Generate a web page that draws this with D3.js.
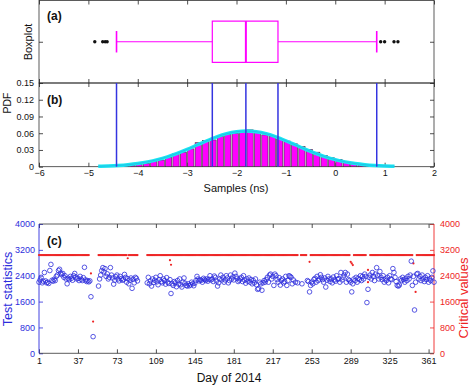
<!DOCTYPE html>
<html>
<head>
<meta charset="utf-8">
<script src="https://cdn.jsdelivr.net/npm/d3@7/dist/d3.min.js"></script>
<style>
  body { margin: 0; background: #fff; }
  svg { display: block; font-family: "Liberation Sans", Arial, Helvetica, sans-serif; }
</style>
</head>
<body>
<div id="chart-container"></div>
<script>
// ---- data ----
const sampleTicks = [-6, -5, -4, -3, -2, -1, 0, 1, 2];
const pdfTicks = [0, 0.03, 0.06, 0.09, 0.12, 0.15];
const dayTicks = [1, 37, 73, 109, 145, 181, 217, 253, 289, 325, 361];
const statTicks = [0, 800, 1600, 2400, 3200, 4000];

// boxplot (ns)
const boxWhiskers = [-4.43, 0.84];
const boxQuartiles = [-2.49, -1.81, -1.16];
const boxOutliers = [-4.87, -4.71, -4.66, -4.62, 0.92, 1.0, 1.19, 1.27];

// histogram: first bin edge, bin width, bar heights
const histStart = -4.8;
const histBin = 0.15;
const histHeights = [0.001, 0.001, 0.001, 0.002, 0.003, 0.004, 0.006, 0.009, 0.012, 0.017,
  0.024, 0.026, 0.032, 0.043, 0.047, 0.048, 0.054, 0.058, 0.060, 0.061,
  0.066, 0.063, 0.057, 0.055, 0.050, 0.046, 0.041, 0.036, 0.031, 0.026,
  0.020, 0.016, 0.013, 0.009, 0.006, 0.004, 0.003, 0.002, 0.001, 0.001];

// fitted pdf curve
const fitX = [-4.8, -4.6, -4.4, -4.2, -4.0, -3.8, -3.6, -3.4, -3.2, -3.0, -2.8, -2.6, -2.4, -2.2, -2.0, -1.8,
  -1.6, -1.4, -1.2, -1.0, -0.8, -0.6, -0.4, -0.2, 0.0, 0.2, 0.4, 0.6, 0.8, 1.0, 1.2];
const fitY = [0.0007, 0.0013, 0.0022, 0.0036, 0.0057, 0.0087, 0.0127, 0.0178, 0.0240, 0.0311, 0.0388, 0.0465,
  0.0535, 0.0591, 0.0627, 0.0640, 0.0627, 0.0591, 0.0535, 0.0465, 0.0388, 0.0311, 0.0240, 0.0178,
  0.0127, 0.0087, 0.0057, 0.0036, 0.0022, 0.0013, 0.0007];

// test statistics, one per day (day 1 .. 366), null = no data
const testStats = [
  2200, 2270, 2350, 2180, 2230, 2500, 2240, 2180, 2200, 2160,
  2560, 2750, 2260, 2230, 2290, 2250, 2380, 2420, 2560, 2600,
  2480, 2430, 2470, 2350, 2400, 2300, 2150, 2320, 2280, 2380,
  2320, 2260, 2400, 2470, 2360, 2300, 2320, 2250, 2380, 2290,
  2250, 2340, 2660, 2270, 2220, 2250, 2210, 2240, 1750, null,
  515, null, null, null, null, 2080, 2300, 2420, 2560, 2650,
  2520, 2620, 2380, 2460, 2300, 2350, 2650, 2420, 2330, 2140,
  2260, 2370, 2420, 2300, 2240, 2380, 2310, 2260, 2280, 2440,
  2350, 2200, 2310, 2150, 2260, 2330, 2010, 2290, 2180, 2350,
  2320, 2240, null, null, null, null, null, null, null, null,
  2180, 2350, 2150, 2240, 2080, 2300, 2190, 2260, 2350, 2210,
  2120, 2280, 2400, 2220, 2180, 2300, 2250, 2140, 2340, 2200,
  2160, 2280, 1850, 2150, 2100, 2220, 2180, 2060, 2250, 2140,
  2300, 2120, 2050, 2200, 2330, 2170, 2100, 2080, 2150, 2090,
  2120, 2200, 2150, 2090, 2170, 2250, 2380, 2300, 2240, 2270,
  2260, 2200, 2320, 2280, 2250, 2300, 2230, 2290, 2400, 2270,
  2300, 2220, 2390, 2350, 2240, 2080, 2180, 2300, 2420, 2270,
  2350, 2200, 2270, 2400, 2330, 2180, 2250, 2420, 2300, 2360,
  2270, 2480, 2380, 2320, 2220, 2260, 2300, 2350, 2220, 2400,
  2260, 2170, 2300, 2230, 2330, 2200, 2280, 2150, 2250, 2180,
  2300, 2120, 1980, 2000, 2200, 2150, 1950, 2180, 2250, 2200,
  2280, 2350, 2200, 2420, 2450, 2300, 2380, 2100, 2450, 2400,
  2280, 2200, 2340, 2110, 2260, 2300, 2180, 2220, 2380, 2100,
  2250, 2400, 2380, 2350, 2150, 2270, null, 2200, null, 2180,
  null, null, null, 2150, null, null, null, null, 2250, 2220,
  1900, 2100, 2200, 2150, 2280, 2320, 2200, 2380, 2250, 2300,
  2430, 2350, 2280, 2200, 2330, 2050, 2260, 2380, 2300, 2220,
  2300, 2180, 2360, 2270, 2230, 2400, 2290, 2310, 2200, 2500,
  2270, 2350, 2420, 2500, 2200, 2450, 2280, 2250, 2200, 1900,
  2150, 2300, 2250, 2350, 2200, 2320, 2280, 2400, 2250, 2380,
  2300, 2450, 2380, 1570, 1980, 2350, 2420, 2300, 2500, 2380,
  2250, 2450, 2650, 2400, 2300, 2530, 2350, 2280, 2400, 2200,
  2300, 2250, 2350, 2180, 2400, 2300, 2280, 2620, 2500, 2350,
  2220, 2100, 2080, 2110, 2300, 2250, 2350, 2280, 2200, 2320,
  2250, 2380, 2300, 2420, 2850, 2100, 2380, 1340, 2200, 2450,
  2470, 2300, 2380, 2250, 2420, 2300, 2220, 2350, 2280, 2400,
  2200, 2300, 2250, 2350, 2550, 2200];

// critical values: runs of days at the constant level, plus the odd days
const critLevel = 3040;
const critRuns = [[1, 47], [56, 82], [84, 92], [101, 240], [243, 248], [252, 288], [292, 303], [307, 346], [350, 366]];
const critOutliers = [[49, 2470], [51, 980], [83, 2940], [122, 2880], [123, 2740], [251, 2830],
  [289, 2830], [290, 2780], [291, 2730], [305, 2580], [305, 2200], [347, 2780], [349, 1900]];

// ---- drawing ----
const W = 474, H = 385;
const left = 39, right = 434;
const blue = '#2d2ddc', red = '#ee2424', magenta = '#ff00ff';

const svg = d3.select('#chart-container').append('svg').attr('width', W).attr('height', H);

const x = d3.scaleLinear().domain([-6, 2]).range([left, right]);
const yA = d3.scaleLinear().domain([0, 1]).range([83, 0.5]);
const yB = d3.scaleLinear().domain([0, 0.15]).range([166.7, 83]);
const xC = d3.scaleLinear().domain([1, 366]).range([left, right]);
const yC = d3.scaleLinear().domain([0, 4000]).range([353.3, 224]);

function styleAxis(g, color) {
  g.select('.domain').remove();
  g.selectAll('.tick line').attr('stroke', color || '#222').attr('stroke-width', 0.8);
  g.selectAll('.tick text').attr('fill', color || '#111').style('font-size', '9px');
}

function frame(y0, y1) {
  svg.append('rect').attr('x', left).attr('y', y0).
  attr('width', right - left).attr('height', y1 - y0).
  attr('fill', 'none').attr('stroke', '#333').attr('stroke-width', 0.8);
}

// panel (a) boxplot
frame(yA(1), yA(0));
svg.append('g').attr('transform', `translate(0,${yA(1)})`).
call(d3.axisTop(x).tickValues(sampleTicks).tickSize(-4).tickFormat('')).call(styleAxis);
svg.append('g').attr('transform', `translate(0,${yA(0)})`).
call(d3.axisBottom(x).tickValues(sampleTicks).tickSize(-4).tickFormat('')).call(styleAxis);
svg.append('g').attr('transform', `translate(${left},0)`).
call(d3.axisLeft(yA).tickValues([0.5]).tickSize(-4).tickFormat('')).call(styleAxis);
svg.append('g').attr('transform', `translate(${right},0)`).
call(d3.axisRight(yA).tickValues([0.5]).tickSize(-4).tickFormat('')).call(styleAxis);

const box = svg.append('g').attr('fill', 'none').attr('stroke', magenta).attr('stroke-width', 1.2);
box.append('rect').
attr('x', x(boxQuartiles[0])).attr('y', yA(0.75)).
attr('width', x(boxQuartiles[2]) - x(boxQuartiles[0])).attr('height', yA(0.25) - yA(0.75));
box.append('line').
attr('x1', x(boxQuartiles[1])).attr('x2', x(boxQuartiles[1])).
attr('y1', yA(0.75)).attr('y2', yA(0.25)).attr('stroke-width', 2);
box.append('line').attr('x1', x(boxWhiskers[0])).attr('x2', x(boxQuartiles[0])).
attr('y1', yA(0.5)).attr('y2', yA(0.5));
box.append('line').attr('x1', x(boxQuartiles[2])).attr('x2', x(boxWhiskers[1])).
attr('y1', yA(0.5)).attr('y2', yA(0.5));
box.selectAll('.cap').data(boxWhiskers).enter().append('line').
attr('x1', d => x(d)).attr('x2', d => x(d)).
attr('y1', yA(0.63)).attr('y2', yA(0.37)).attr('stroke-width', 1.6);
svg.append('g').selectAll('circle').data(boxOutliers).enter().append('circle').
attr('cx', d => x(d)).attr('cy', yA(0.5)).attr('r', 1.7).attr('fill', '#111');

// panel (b) histogram
frame(yB(0.15), yB(0));
svg.append('g').attr('transform', `translate(0,${yB(0)})`).
call(d3.axisBottom(x).tickValues(sampleTicks).tickSize(-4).tickPadding(3).tickFormat(d3.format('d'))).
call(styleAxis);
svg.append('g').attr('transform', `translate(0,${yB(0.15)})`).
call(d3.axisTop(x).tickValues(sampleTicks).tickSize(-4).tickFormat('')).call(styleAxis);
svg.append('g').attr('transform', `translate(${left},0)`).
call(d3.axisLeft(yB).tickValues(pdfTicks).tickSize(-4).tickPadding(5).
tickFormat(d => d === 0 ? '0' : d.toFixed(2))).call(styleAxis);
svg.append('g').attr('transform', `translate(${right},0)`).
call(d3.axisRight(yB).tickValues(pdfTicks).tickSize(-4).tickFormat('')).call(styleAxis);

svg.append('g').selectAll('rect').data(histHeights).enter().append('rect').
attr('x', (d, i) => x(histStart + histBin * (i + 0.08))).
attr('width', x(histBin * 0.84) - x(0)).
attr('y', d => yB(d)).
attr('height', d => yB(0) - yB(d)).
attr('fill', magenta).attr('stroke', '#3a3a3a').attr('stroke-width', 0.6);

const fitLine = d3.line().x(d => x(d[0])).y(d => yB(d[1])).curve(d3.curveMonotoneX);
const fitPoints = d3.zip(fitX, fitY);
svg.append('path').datum(fitPoints).attr('d', fitLine).
attr('fill', 'none').attr('stroke', '#19e6f0').attr('stroke-width', 3.4);
svg.append('path').datum(fitPoints).attr('d', fitLine).
attr('fill', 'none').attr('stroke', '#22b8e8').attr('stroke-width', 0.8);

svg.append('g').selectAll('line').data(boxWhiskers.concat(boxQuartiles)).enter().append('line').
attr('x1', d => x(d)).attr('x2', d => x(d)).
attr('y1', yB(0)).attr('y2', yB(0.15)).
attr('stroke', '#3434e0').attr('stroke-width', 1.5);

// panel (c) daily statistics
svg.append('g').attr('transform', `translate(0,${yC(0)})`).
call(d3.axisBottom(xC).tickValues(dayTicks).tickSize(-4).tickPadding(4).tickFormat(d3.format('d'))).
call(styleAxis);
svg.append('g').attr('transform', `translate(0,${yC(4000)})`).
call(d3.axisTop(xC).tickValues(dayTicks).tickSize(-4).tickFormat('')).call(styleAxis);
svg.append('g').attr('transform', `translate(${left},0)`).
call(d3.axisLeft(yC).tickValues(statTicks).tickSize(-4).tickPadding(4).tickFormat(d3.format('d'))).
call(g => styleAxis(g, blue));
svg.append('g').attr('transform', `translate(${right},0)`).
call(d3.axisRight(yC).tickValues(statTicks).tickSize(-4).tickPadding(6).tickFormat(d3.format('d'))).
call(g => styleAxis(g, red));

svg.append('line').attr('x1', left).attr('x2', right).attr('y1', yC(4000)).attr('y2', yC(4000)).
attr('stroke', '#333').attr('stroke-width', 0.8);
svg.append('line').attr('x1', left).attr('x2', right).attr('y1', yC(0)).attr('y2', yC(0)).
attr('stroke', '#333').attr('stroke-width', 0.8);
svg.append('line').attr('x1', left).attr('x2', left).attr('y1', yC(0)).attr('y2', yC(4000)).
attr('stroke', blue).attr('stroke-width', 0.9);
svg.append('line').attr('x1', right).attr('x2', right).attr('y1', yC(0)).attr('y2', yC(4000)).
attr('stroke', red).attr('stroke-width', 0.9);

const critPoints = [];
critRuns.forEach(([a, b]) => {
  for (let day = a; day <= b; day++) critPoints.push([day, critLevel]);
});
critOutliers.forEach(p => critPoints.push(p));

svg.append('g').selectAll('circle').data(critPoints).enter().append('circle').
attr('cx', d => xC(d[0])).attr('cy', d => yC(d[1])).attr('r', 1.1).attr('fill', red);

const statPoints = testStats.map((v, i) => [i + 1, v]).filter(d => d[1] !== null);
svg.append('g').selectAll('circle').data(statPoints).enter().append('circle').
attr('cx', d => xC(d[0])).attr('cy', d => yC(d[1])).attr('r', 2.3).
attr('fill', 'none').attr('stroke', blue).attr('stroke-width', 0.8);

// ---- labels ----
function label(txt, px, py, opts) {
  const o = opts || {};
  const t = svg.append('text').text(txt).
  attr('transform', `translate(${px},${py})` + (o.rotate ? ` rotate(${o.rotate})` : '')).
  attr('text-anchor', o.anchor || 'middle').
  style('font-size', (o.size || 11) + 'px').
  attr('fill', o.color || '#111');
  if (o.bold) t.style('font-weight', 'bold');
  return t;
}

label('(a)', 47, 20, { anchor: 'start', size: 12, bold: true });
label('(b)', 47, 104, { anchor: 'start', size: 12, bold: true });
label('(c)', 47, 245, { anchor: 'start', size: 12, bold: true });
label('Boxplot', 32, 42, { rotate: -90, size: 11 });
label('PDF', 11, 103, { rotate: -90, size: 10.5 });
label('Samples (ns)', 236, 192, { size: 11 });
label('Day of 2014', 229, 382, { size: 12 });
label('Test statistics', 12, 289, { rotate: -90, size: 12.5, color: blue });
label('Critical values', 468, 298, { rotate: -90, size: 13, color: red });
</script>
</body>
</html>
